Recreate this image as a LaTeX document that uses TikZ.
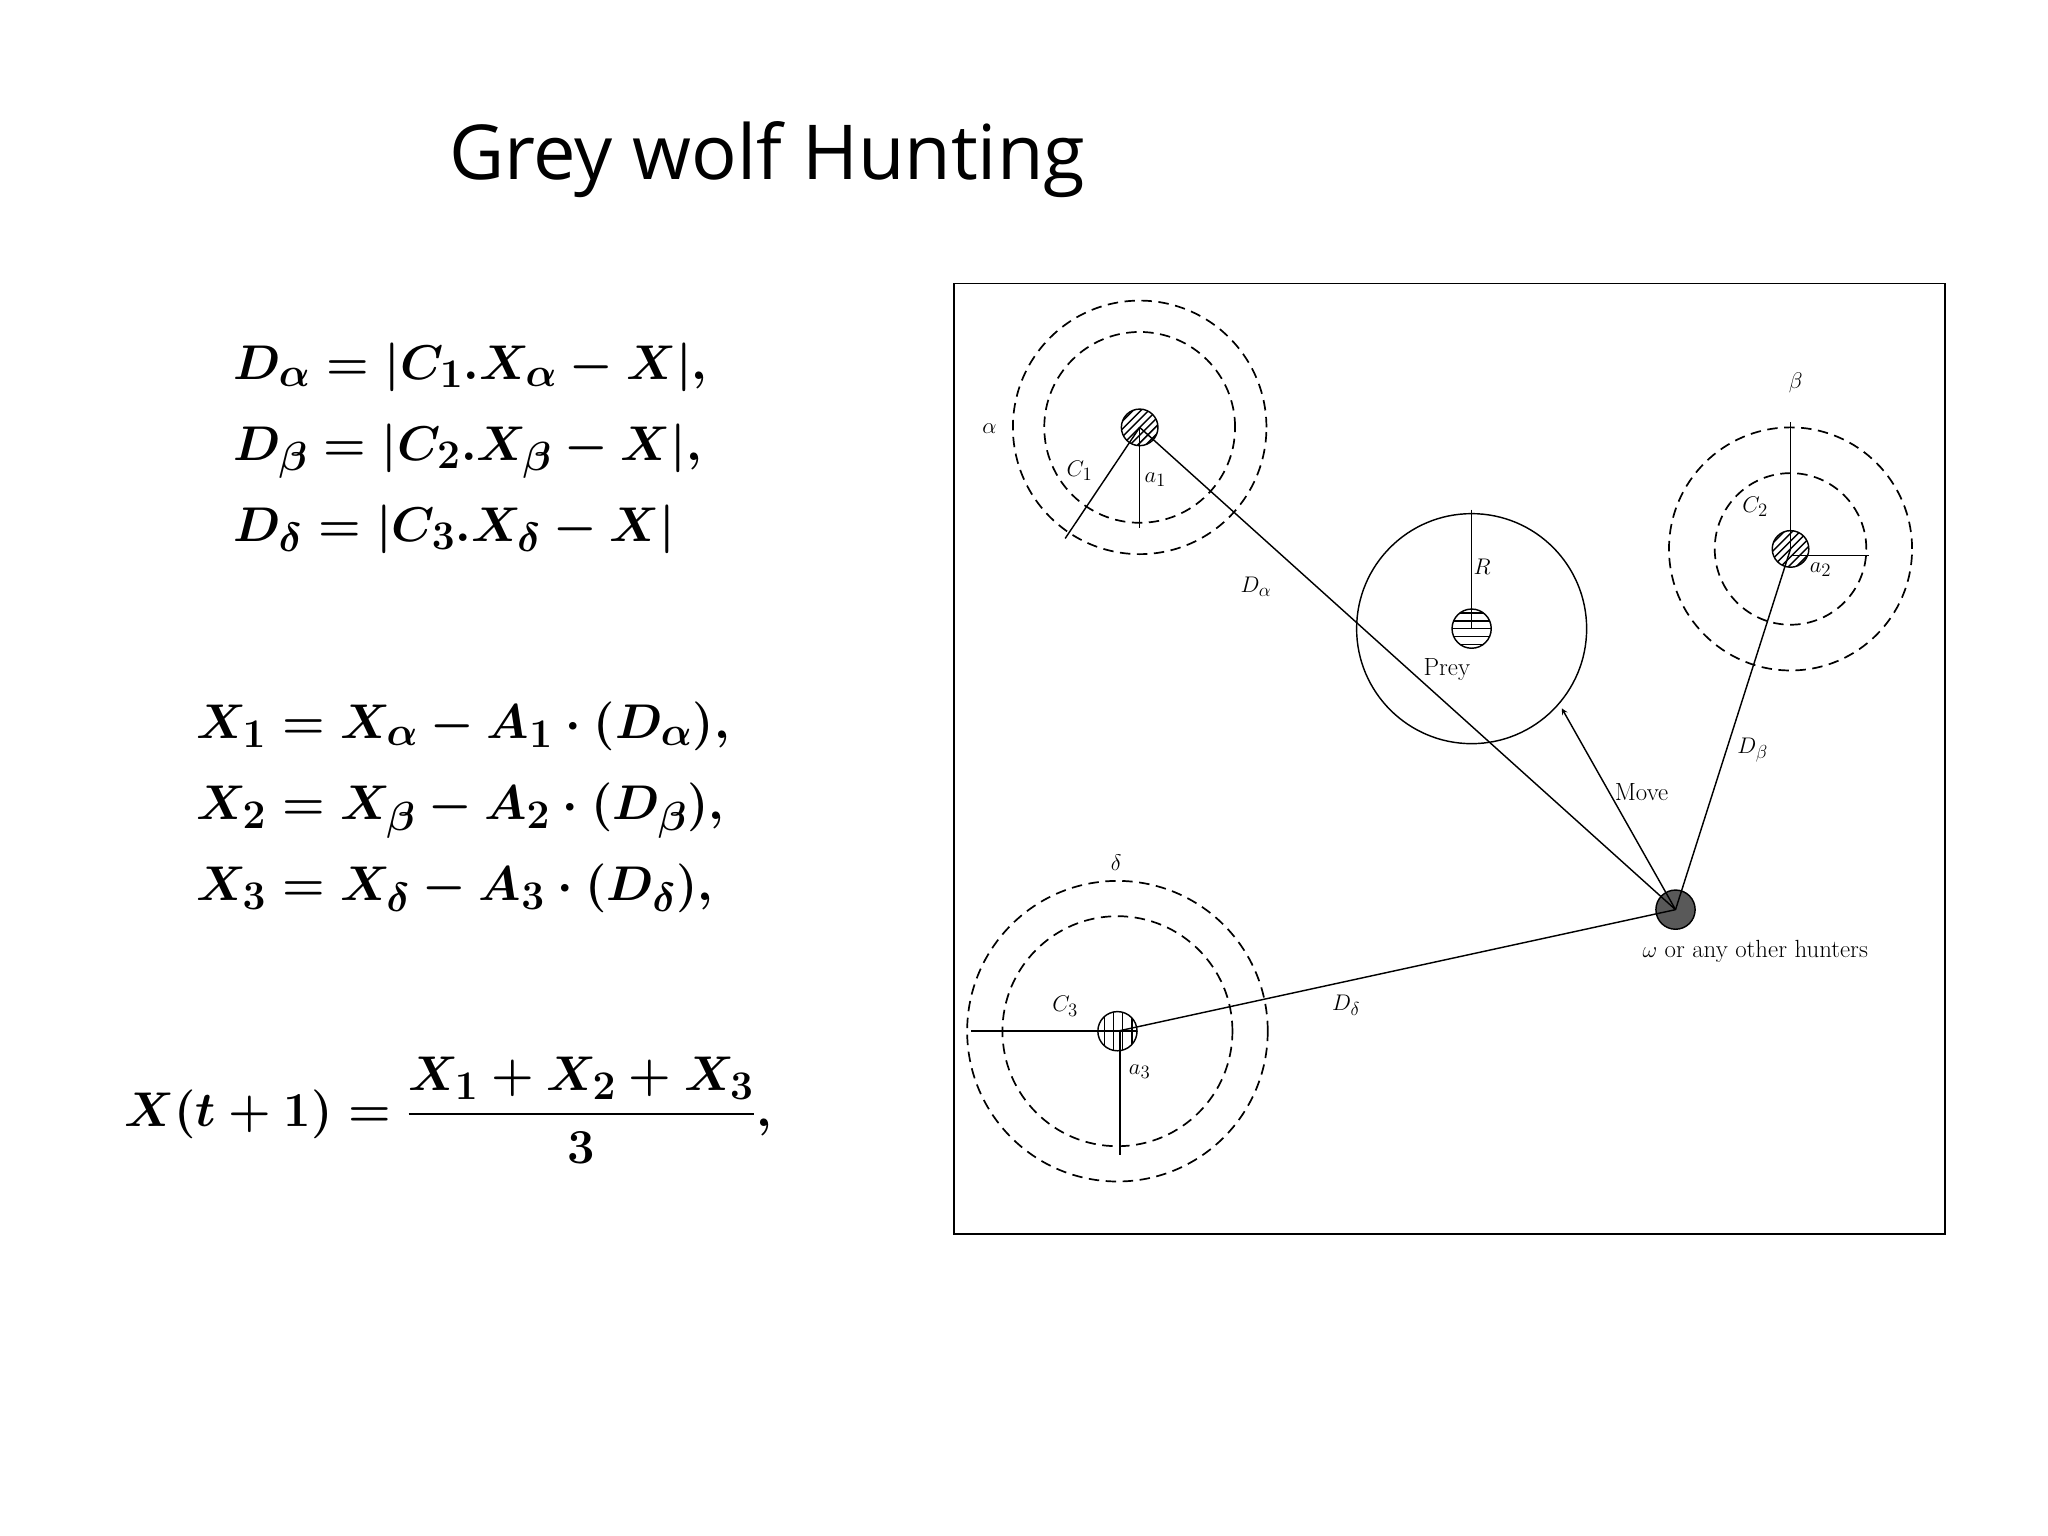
\documentclass[tikz,border=0pt]{standalone}
\usepackage{amsmath}
\usepackage{fontspec}
\usetikzlibrary{calc}
\newfontfamily\titlefont{Open Sans}
\newcommand{\eqA}{$D_{\alpha} = | C_{1}.X_{\alpha} - X|,$}
\newcommand{\eqB}{$D_{\beta} = | C_{2}.X_{\beta} - X|,$}
\newcommand{\eqC}{$D_{\delta} = | C_{3}.X_{\delta} - X|$}
\newcommand{\eqD}{$X_{1} = X_{\alpha} - A_{1}\cdot(D_{\alpha}),$}
\newcommand{\eqE}{$X_{2} = X_{\beta} - A_{2}\cdot(D_{\beta}),$}
\newcommand{\eqF}{$X_{3} = X_{\delta} - A_{3}\cdot(D_{\delta}),$}
\newcommand{\eqG}{$X(t+1) = \dfrac{X_{1}+X_{2}+X_{3}}{3},$}
\begin{document}
\begin{tikzpicture}[x=1pt,y=-1pt]
\tikzset{
  dcirc/.style={line width=1.3pt,dash pattern=on 8pt off 5pt},
  ln/.style={line width=1.1pt},
  lbl/.style={font=\fontsize{19}{22}\selectfont,inner sep=0pt},
  eqn/.style={anchor=base west,inner sep=0pt,scale=1.5,transform shape,font=\fontsize{24.88}{30}\selectfont\boldmath}}
\useasboundingbox (0,0) rectangle (1567,1175);
\node[font=\titlefont\fontsize{58}{70}\selectfont] (title) at (587,122) {Grey wolf Hunting};
% equations
\node[eqn] (e1) at (178,290) {\eqA};
\node[eqn] (e2) at (178,352) {\eqB};
\node[eqn] (e3) at (178,414) {\eqC};
\node[eqn] (e4) at (150,565) {\eqD};
\node[eqn] (e5) at (150,627) {\eqE};
\node[eqn] (e6) at (150,689) {\eqF};
\node[eqn] (e7) at (95,862) {\eqG};
% frame
\draw[line width=1.3pt] (730,217) rectangle (1488,944);
% alpha
\coordinate (A) at (872,327);
\draw[dcirc] (A) circle (97pt);
\draw[dcirc] (A) circle (73pt);
\coordinate (c1end) at (815,412);
\coordinate (a1end) at (872,404);
\draw[ln] (A) -- (c1end);
\draw[ln] (A) -- (a1end);
\begin{scope}\clip (A) circle (14pt);
\foreach \i in {-30,-24,...,30} \draw[ln] ($(A)+(\i-20,20)$) -- ($(A)+(\i+20,-20)$);
\end{scope}
\node[ln,draw,circle,minimum size=28pt,inner sep=0pt] (alpha) at (A) {};
\node[lbl] (la) at (757,328) {$\alpha$};
\node[lbl] (lc1) at (826,360) {$C_1$};
\node[lbl] (la1) at (884,367) {$a_1$};
% beta
\coordinate (B) at (1370,420);
\draw[dcirc] (B) circle (93pt);
\draw[dcirc] (B) circle (58pt);
\coordinate (btop) at (1370,323);
\coordinate (bright) at (1430,425);
\coordinate (bmid) at (1370,425);
\draw[ln] (btop) -- (B);
\draw[ln] (bmid) -- (bright);
\begin{scope}\clip (B) circle (14pt);
\foreach \i in {-30,-24,...,30} \draw[ln] ($(B)+(\i-20,20)$) -- ($(B)+(\i+20,-20)$);
\end{scope}
\node[ln,draw,circle,minimum size=28pt,inner sep=0pt] (beta) at (B) {};
\node[lbl] (lb) at (1374,293) {$\beta$};
\node[lbl] (lc2) at (1343,388) {$C_2$};
\node[lbl] (la2) at (1393,436) {$a_2$};
% prey
\coordinate (P) at (1126,481);
\node[ln,draw,circle,minimum size=176pt,inner sep=0pt] (preyc) at (P) {};
\coordinate (ptop) at (1126,390);
\draw[ln] (ptop) -- (P);
\begin{scope}\clip (P) circle (15pt);
\foreach \i in {-12,-6,...,12} \draw[ln] ($(P)+(-20,\i)$) -- ($(P)+(20,\i)$);
\end{scope}
\node[ln,draw,circle,minimum size=30pt,inner sep=0pt] (prey) at (P) {};
\node[lbl] (lr) at (1134,434) {$R$};
\node[lbl] (lp) at (1107,512) {Prey};
% delta
\coordinate (D) at (855,789);
\draw[dcirc] (D) circle (115pt);
\draw[dcirc] (D) circle (88pt);
\coordinate (dleft) at (743,789);
\coordinate (dmid) at (857,789);
\coordinate (dbot) at (857,884);
\draw[ln] (dleft) -- (D);
\draw[ln] (dmid) -- (dbot);
\begin{scope}\clip (D) circle (15pt);
\foreach \i in {-10,-3,4,11} \draw[ln] ($(D)+(\i,-20)$) -- ($(D)+(\i,20)$);
\draw[ln] ($(D)+(-20,0)$) -- ($(D)+(20,0)$);
\end{scope}
\node[ln,draw,circle,minimum size=30pt,inner sep=0pt] (delta) at (D) {};
\node[lbl] (ld) at (854,660) {$\delta$};
\node[lbl] (lc3) at (815,770) {$C_3$};
\node[lbl] (la3) at (872,820) {$a_3$};
% omega
\node[draw,fill=black!65,circle,minimum size=30pt,inner sep=0pt,ln] (omega) at (1282,696) {};
\node[lbl] (lo) at (1343,728) {$\omega$ or any other hunters};
% connectors
\draw[ln] (omega.center) -- (alpha.center);
\draw[ln] (omega.center) -- (beta.center);
\draw[ln] (omega.center) -- (delta.center);
\coordinate (mv) at (1195,542);
\draw[ln,-stealth] (omega.center) -- (mv);
\node[lbl] (lda) at (961,449) {$D_\alpha$};
\node[lbl] (ldb) at (1341,574) {$D_\beta$};
\node[lbl] (ldd) at (1030,769) {$D_\delta$};
\node[lbl] (lm) at (1256,606) {Move};
\end{tikzpicture}
\end{document}
